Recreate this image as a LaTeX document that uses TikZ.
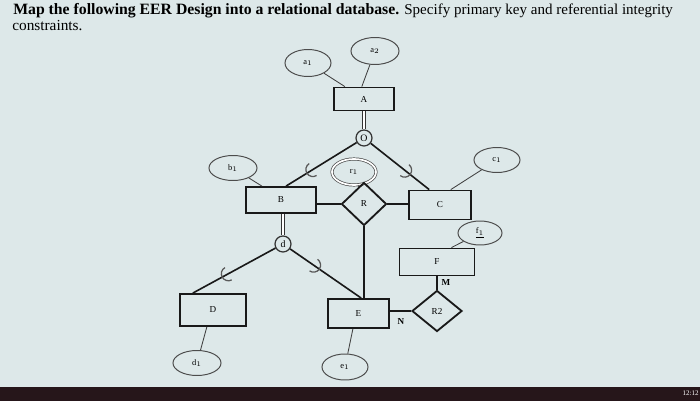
\documentclass[tikz,border=0pt]{standalone}
\usepackage{fontspec}
\setmainfont{Liberation Serif}
\usetikzlibrary{shapes.geometric,decorations.markings,calc}
\definecolor{screenbg}{RGB}{221,232,233}
\definecolor{taskbar}{RGB}{38,22,26}

\begin{document}
\begin{tikzpicture}[x=0.025cm,y=-0.025cm,
  entity/.style={draw=black!90,line width=1.3pt,inner sep=0pt,font=\fontsize{6.5}{7}\selectfont},
  attrib/.style={ellipse,draw=black!70,line width=0.7pt,inner sep=0pt,font=\fontsize{6}{7}\selectfont},
  rel/.style={diamond,draw=black!90,line width=1.3pt,inner sep=0pt,font=\fontsize{6.5}{7}\selectfont},
  spec/.style={circle,draw=black!80,line width=0.9pt,minimum size=0.4cm,inner sep=0pt,font=\fontsize{7}{8}\selectfont},
  link/.style={line width=1.15pt,black!90},
  thinlink/.style={line width=0.6pt,black!75},
  dbl/.style={double,double distance=1.5pt,line width=0.6pt,draw=black!80},
  subsetmark/.style={postaction={decorate},decoration={markings,mark=at position #1 with {\draw[line width=0.9pt,black!65] (0,-5pt) arc[start angle=-90,end angle=90,radius=5pt];}}}]
\fill[screenbg] (0,0) rectangle (700,401);
\fill[taskbar] (0,387) rectangle (700,401);
\node[anchor=east,text=white,font=\fontsize{5}{6}\selectfont,inner sep=0pt] (clock) at (699,393) {12:12};

\node[anchor=base west,inner sep=0pt,font=\fontsize{10.7}{12}\selectfont] (title) at (13,15) {{\fontsize{11.2}{12}\selectfont\bfseries Map the following EER Design into a relational database.} Specify primary key and referential integrity};
\node[anchor=base west,inner sep=0pt,font=\fontsize{10.9}{12}\selectfont] (title2) at (12,30) {constraints.};

\node[entity,minimum width=1.5cm,minimum height=0.575cm] (A) at (364,99) {A};
\node[entity,minimum width=1.75cm,minimum height=0.65cm] (B) at (281,200) {B};
\node[entity,minimum width=1.55cm,minimum height=0.725cm] (C) at (440,205) {C};
\node[entity,minimum width=1.65cm,minimum height=0.8cm] (D) at (213,310) {D};
\node[entity,minimum width=1.525cm,minimum height=0.725cm] (E) at (358.5,313.5) {E};
\node[entity,minimum width=1.875cm,minimum height=0.675cm] (F) at (437,262) {F};

\node[attrib,minimum width=1.15cm,minimum height=0.675cm] (a1) at (308,63) {a$_1$};
\node[attrib,minimum width=1.2cm,minimum height=0.675cm] (a2) at (375,51) {a$_2$};
\node[attrib,minimum width=1.2cm,minimum height=0.625cm] (b1) at (233,168) {b$_1$};
\node[attrib,double,double distance=1.2pt,line width=0.5pt,minimum width=1.1cm,minimum height=0.65cm] (r1) at (354,172) {r$_1$};
\node[attrib,minimum width=1.15cm,minimum height=0.625cm] (c1) at (497,160) {c$_1$};
\node[attrib,minimum width=1.1cm,minimum height=0.6cm] (f1) at (480,233) {\underline{f$_1$}};
\node[attrib,minimum width=1.2cm,minimum height=0.625cm] (d1) at (197,363) {d$_1$};
\node[attrib,minimum width=1.15cm,minimum height=0.65cm] (e1) at (345,367) {e$_1$};

\node[rel,minimum width=1.125cm,minimum height=1.075cm] (R) at (364,204) {R};
\node[rel,minimum width=1.25cm,minimum height=1.025cm] (R2) at (437,311) {R2};

\node[spec] (o) at (364,138) {O};
\node[spec] (d) at (283,244) {d};

\draw[thinlink] (a1) -- (A.147);
\draw[thinlink] (a2) -- (A.100);
\draw[dbl] (A) -- (o);
\draw[link,subsetmark=0.62] (o) -- (B.70);
\draw[link,subsetmark=0.58] (o) -- (C.125);
\draw[thinlink] (b1) -- (B.144);
\draw[thinlink] (r1) -- (R);
\draw[link] (R.west) -- (R.west -| B.east);
\draw[link] (R.east) -- (R.east -| C.west);
\draw[thinlink] (c1) -- (C.55);
\draw[dbl] (B.south -| d) -- (d);
\draw[link,subsetmark=0.57] (d) -- (D.140);
\draw[link,subsetmark=0.33] (d) -- (E.80);
\draw[link] (R.south) -- (R.south |- E.north);
\draw[thinlink] (d1) -- (D.250);
\draw[thinlink] (e1) -- (E.250);
\draw[thinlink] (f1) -- (F.45);
\draw[link] (F.south) -- (R2.north);
\draw[link] (R2.west) -- (R2.west -| E.east);

\node[font=\fontsize{6.5}{7}\selectfont\bfseries,inner sep=0pt] (mlabel) at (446,283) {M};
\node[font=\fontsize{6.5}{7}\selectfont\bfseries,inner sep=0pt] (nlabel) at (401,322) {N};
\end{tikzpicture}
\end{document}
